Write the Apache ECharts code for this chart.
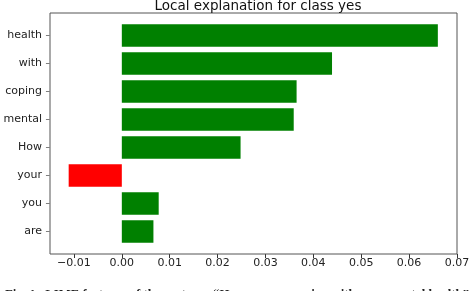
<!DOCTYPE html>
<html><head><meta charset="utf-8">
<script src="https://cdn.jsdelivr.net/npm/echarts@6/dist/echarts.min.js"></script>
<style>html,body{margin:0;padding:0;background:#fff}#c{width:474px;height:291px}</style>
</head><body><div id="c"></div>
<script>
const categories = ['health', 'with', 'coping', 'mental', 'How', 'your', 'you', 'are'];
const weights = [0.066, 0.0439, 0.0365, 0.0359, 0.0248, -0.0111, 0.0077, 0.0066];
const xTicks = [-0.01, 0.00, 0.01, 0.02, 0.03, 0.04, 0.05, 0.06, 0.07];
const titleText = 'Local explanation for class yes';
const captionText = 'Fig. 1.  LIME features of the sentence \u201cHow are you coping with your mental health\u201d';

const chart = echarts.init(document.getElementById('c'), null, {renderer: 'canvas'});
const font = 'DejaVu Sans';
chart.setOption({
  animation: false,
  backgroundColor: '#fff',
  title: [{
    text: titleText, left: 253, top: -5.5, textAlign: 'center',
    textStyle: {fontFamily: font, fontSize: 13.5, fontWeight: 'normal', color: '#111'}
  }, {
    text: captionText, left: 0, top: 283.5,
    textStyle: {fontFamily: 'Liberation Serif', fontSize: 12.8, fontWeight: 'bold', color: '#222'}
  }],
  grid: [
    {left: 50, right: 17, top: 21.5, bottom: 45.5, containLabel: false},
    {left: 50, right: 17, top: 13, bottom: 37, show: true, borderColor: '#555', borderWidth: 1, backgroundColor: 'transparent', z: 5}
  ],
  xAxis: [{
    type: 'value', gridIndex: 0, min: -0.015, max: 0.07, offset: 8.5,
    axisLine: {show: false, onZero: false},
    splitLine: {show: false},
    axisTick: {show: true, length: 4, customValues: xTicks, lineStyle: {color: '#333'}},
    axisLabel: {customValues: xTicks, fontFamily: font, fontSize: 11, color: '#222', margin: 4,
      formatter: v => (v < 0 ? '\u2212' : '') + Math.abs(v).toFixed(2)}
  }, {
    type: 'value', gridIndex: 1, min: 0, max: 1, show: false
  }],
  yAxis: [{
    type: 'category', gridIndex: 0, data: categories, inverse: true, position: 'left',
    axisLine: {show: false, onZero: false},
    axisTick: {show: false},
    axisLabel: {
      fontFamily: font, fontSize: 11, color: '#222', margin: 0, interval: 0,
      formatter: v => '{n|' + v + '} {d|\u2013}',
      rich: {
        n: {fontFamily: font, fontSize: 11, color: '#222'},
        d: {fontFamily: font, fontSize: 9, color: '#333'}
      }
    }
  }, {
    type: 'value', gridIndex: 1, min: 0, max: 1, show: false
  }],
  series: [{
    type: 'bar', xAxisIndex: 0, yAxisIndex: 0,
    barCategoryGap: '20%',
    data: weights.map(v => ({value: v, itemStyle: {color: v < 0 ? '#ff0000' : '#008000'}}))
  }]
});
</script></body></html>
